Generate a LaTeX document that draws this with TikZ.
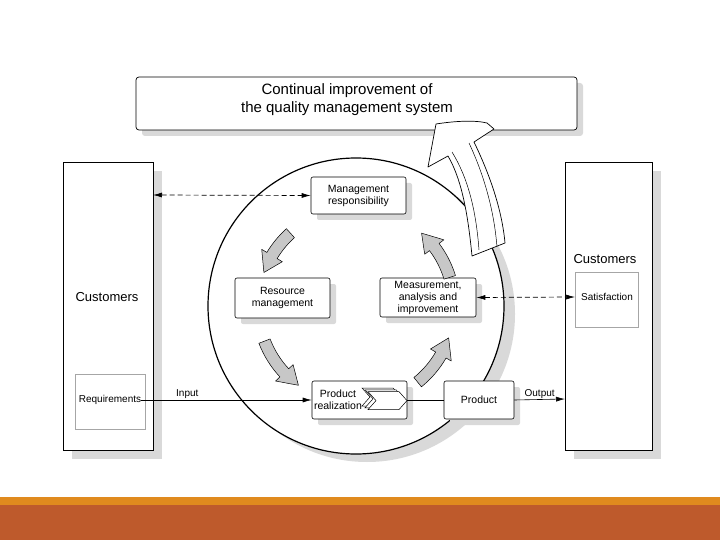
\documentclass[tikz,border=0pt]{standalone}
\usepackage{fontspec}
\setmainfont{Liberation Sans}
\usetikzlibrary{calc,arrows.meta}
\begin{document}
\begin{tikzpicture}[x=1pt,y=-1pt,
  shadow/.style={fill=black!15,draw=none},
  box/.style={draw=black,fill=white,rounded corners=2pt,line width=0.6pt,align=center,font=\fontsize{10.5}{12}\selectfont,inner sep=0pt},
  cust/.style={draw=black,fill=white,line width=0.6pt},
  inner/.style={draw=black!35,fill=white,line width=0.5pt},
  conn/.style={line width=0.6pt,-{Latex[length=9pt,width=5pt]}},
  dconn/.style={line width=0.7pt,dashed,dash pattern=on 5pt off 3pt,{Latex[length=9pt,width=5pt]}-{Latex[length=9pt,width=5pt]}},
  lbl/.style={font=\fontsize{10}{12}\selectfont,inner sep=1pt},
  cyc/.style={fill=black!22,draw=black,line width=0.5pt,line join=round}]
\useasboundingbox (0,0) rectangle (720,540);
\fill[white] (0,0) rectangle (720,540);
% bottom bars
\fill[fill={rgb,255:red,224;green,138;blue,30}] (0,497) rectangle (720,505);
\fill[fill={rgb,255:red,190;green,90;blue,44}] (0,505) rectangle (720,540);
% shadows
\fill[shadow] (72,171) rectangle (162,459);
\fill[shadow] (574,171) rectangle (661,459);
\fill[shadow,rounded corners=3pt] (142,83) rectangle (583,136);
\fill[shadow] (367,314) circle[radius=148];
% circle
\draw[fill=white,line width=1.2pt] (356,306) coordinate (C) circle[radius=148];
% customers
\draw[cust] (63,162) rectangle (153,450);
\node[font=\fontsize{13}{15}\selectfont] (custL) at (107,297) {Customers};
\draw[inner] (75,374) rectangle (145,429);
\node[lbl,font=\fontsize{10}{11}\selectfont,inner sep=0pt] (req) at (110,400) {Requirements};
\draw[cust] (565,162) rectangle (652,450);
\node[font=\fontsize{13}{15}\selectfont] (custR) at (605,259) {Customers};
\draw[inner] (575,272) rectangle (638,327);
\node[lbl,font=\fontsize{10}{11}\selectfont] (sat) at (607,297) {Satisfaction};
\coordinate (custLr) at (153,195);
\coordinate (satL) at (575,297);
\coordinate (custRl) at (565,399);
% node shadows
\foreach \a/\b/\c/\d in {311/177/406/214, 235/278/330/318, 380/278/476/317, 312/381/407/419, 444/381/514/419}
  \fill[shadow,rounded corners=2pt] (\a+6,\b+6) rectangle (\c+6,\d+6);
% nodes
\node[box,minimum width=95pt,minimum height=37pt] (mr) at (358.5,195.5) {Management\\responsibility};
\node[box,minimum width=95pt,minimum height=40pt] (rm) at (282.5,298) {Resource\\management};
\node[box,minimum width=96pt,minimum height=39pt] (ma) at (428,297.5) {Measurement,\\analysis and\\improvement};
\node[box,minimum width=95pt,minimum height=38pt] (pr) at (359.5,400) {};
\node[font=\fontsize{10.5}{12}\selectfont,align=center,inner sep=0pt] (prt) at (338,400) {Product\\realization};
\node[box,minimum width=70pt,minimum height=38pt] (prod) at (479,400) {Product};
% chevrons
\foreach \o in {0,3,6}
  \draw[fill=white,line width=0.5pt] (362+\o,388+\o*0.6) -- (393+\o,388+\o*0.6) -- (401+\o,397+\o*0.6) -- (393+\o,406+\o*0.6) -- (362+\o,406+\o*0.6) -- (370+\o,397+\o*0.6) -- cycle;
% connectors
\draw[conn] (req.east) -- (pr.west) node[lbl,pos=0.27,above] {Input};
\draw[line width=0.6pt] (pr.east) -- (prod.west);
\draw[conn] (prod.east) -- (custRl) node[lbl,midway,above] {Output};
\draw[dconn] (custLr) -- (mr.west);
\draw[dconn] (ma.east) -- (satL);
% cycle arrows
\foreach \a/\b in {132/160, 201/234, 309/341, 17/48}{
  \pgfmathsetmacro{\ta}{-\a}\pgfmathsetmacro{\tm}{-(\b-11)}\pgfmathsetmacro{\tb}{-\b}
  \draw[cyc] ($(C)+(\ta:104)$) arc[start angle=\ta,end angle=\tm,radius=104]
    -- ($(C)+(\tm:110)$) -- ($(C)+(\tb:98)$) -- ($(C)+(\tm:86)$) -- ($(C)+(\tm:92)$)
    arc[start angle=\tm,end angle=\ta,radius=92] -- cycle;
}
% top box
\draw[fill=white,rounded corners=3pt,line width=0.7pt] (136,77) rectangle (577,130);
\node[font=\fontsize{15}{18}\selectfont,align=center] (title) at (347,100) {Continual improvement of\\the quality management system};
% big arrow
\draw[fill=white,line width=0.7pt,line join=round] (472,256) .. controls (468,215) and (462,180) .. (448,156)
  -- (428,167) -- (436,124) .. controls (455,121) and (475,120) .. (487,123)
  -- (494,129) -- (474,142) .. controls (490,175) and (502,210) .. (505,243) -- cycle;
\draw[line width=0.5pt] (479,250) .. controls (476,210) and (468,178) .. (452,152);
\draw[line width=0.5pt] (497,247) .. controls (494,210) and (484,175) .. (469,143);
\end{tikzpicture}
\end{document}
